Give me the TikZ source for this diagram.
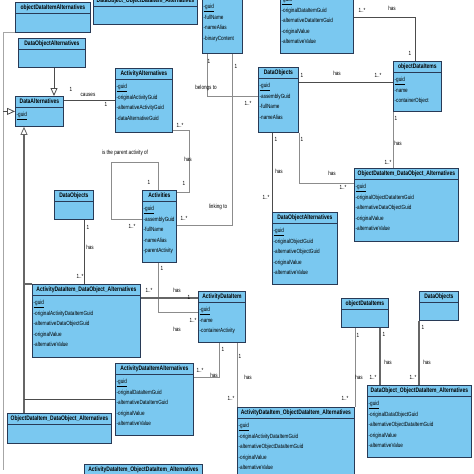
\documentclass[tikz,border=0pt]{standalone}
\usepackage{fontspec}
\newfontfamily\umlfont[FakeStretch=0.77]{Liberation Sans}
\usetikzlibrary{arrows.meta}
\definecolor{classfill}{RGB}{122,200,240}
\definecolor{classedge}{RGB}{40,58,86}

\begin{document}
\begin{tikzpicture}[x=1pt,y=-1pt,
		classbox/.style={rectangle,draw=classedge,fill=classfill,line width=0.8pt,inner sep=0pt,anchor=north west},
		heading/.style={font={\umlfont\fontsize{6.5}{7}\selectfont\bfseries},inner sep=0pt,anchor=base},
		fields/.style={font={\umlfont\fontsize{6}{10.5}\selectfont},align=left,inner sep=0pt,anchor=north west},
		bar/.style={draw=classedge,line width=0.9pt},
		mult/.style={font={\umlfont\fontsize{6}{7}\selectfont},inner sep=0pt},
		link/.style={draw=black!45,line width=0.6pt},
		darklink/.style={draw=black!70,line width=0.8pt},
		heavylink/.style={draw=black!60,line width=1.4pt},
		faintlink/.style={draw=black!35,line width=0.6pt},
		gen/.style={-{Triangle[open,line width=0.8pt,length=8pt,width=7pt]}}]
		\useasboundingbox (0,0) rectangle (474,474);

		% classes
		\node[classbox,minimum width=75pt,minimum height=30pt]	(0)	at (15,2)	{};
		\node[heading] (0t) at ([yshift=-7.5pt]0.north) {objectDataItemAlternatives};
		\draw[bar] ([yshift=-11pt]0.north west) -- ([yshift=-11pt]0.north east);

		\node[classbox,minimum width=104pt,minimum height=29pt]	(1)	at (93,-5)	{};
		\node[heading] (1t) at ([yshift=-7.5pt]1.north) {DataObject\_ObjectDataItem\_Alternatives};
		\draw[bar] ([yshift=-11pt]1.north west) -- ([yshift=-11pt]1.north east);

		\node[classbox,minimum width=40pt,minimum height=65pt]	(2)	at (202,-12)	{};
		\draw[bar] ([yshift=-11pt]2.north west) -- ([yshift=-11pt]2.north east);
		\node[fields] (2f) at ([xshift=1.5pt,yshift=-16pt]2.north west) {\underline{-guid}\\-fullName\\-nameAlias\\-binaryContent};

		\node[classbox,minimum width=73pt,minimum height=72pt]	(3)	at (280,-19)	{};
		\draw[bar] ([yshift=-11pt]3.north west) -- ([yshift=-11pt]3.north east);
		\node[fields] (3f) at ([xshift=1.5pt,yshift=-16pt]3.north west) {\underline{-guid}\\-originalDataItemGuid\\-alternativeDataItemGuid\\-originalValue\\-alternativeValue};

		\node[classbox,minimum width=67pt,minimum height=29pt]	(4)	at (18,38)	{};
		\node[heading] (4t) at ([yshift=-7.5pt]4.north) {DataObjectAlternatives};
		\draw[bar] ([yshift=-11pt]4.north west) -- ([yshift=-11pt]4.north east);

		\node[classbox,minimum width=48pt,minimum height=30pt]	(5)	at (15,96)	{};
		\node[heading] (5t) at ([yshift=-7.5pt]5.north) {DataAlternatives};
		\draw[bar] ([yshift=-11pt]5.north west) -- ([yshift=-11pt]5.north east);
		\node[fields] (5f) at ([xshift=1.5pt,yshift=-16pt]5.north west) {\underline{-guid}};

		\node[classbox,minimum width=57pt,minimum height=64pt]	(6)	at (115,68)	{};
		\node[heading] (6t) at ([yshift=-7.5pt]6.north) {ActivityAlternatives};
		\draw[bar] ([yshift=-11pt]6.north west) -- ([yshift=-11pt]6.north east);
		\node[fields] (6f) at ([xshift=1.5pt,yshift=-16pt]6.north west) {\underline{-guid}\\-originalActivityGuid\\-alternativeActivityGuid\\-dataAlternativeGuid};

		\node[classbox,minimum width=40pt,minimum height=65pt]	(7)	at (258,67)	{};
		\node[heading] (7t) at ([yshift=-7.5pt]7.north) {DataObjects};
		\draw[bar] ([yshift=-11pt]7.north west) -- ([yshift=-11pt]7.north east);
		\node[fields] (7f) at ([xshift=1.5pt,yshift=-16pt]7.north west) {\underline{-guid}\\-assemblyGuid\\-fullName\\-nameAlias};

		\node[classbox,minimum width=48pt,minimum height=50pt]	(8)	at (393,61)	{};
		\node[heading] (8t) at ([yshift=-7.5pt]8.north) {objectDataItems};
		\draw[bar] ([yshift=-11pt]8.north west) -- ([yshift=-11pt]8.north east);
		\node[fields] (8f) at ([xshift=1.5pt,yshift=-16pt]8.north west) {\underline{-guid}\\-name\\-containerObject};

		\node[classbox,minimum width=34pt,minimum height=72pt]	(9)	at (142,190)	{};
		\node[heading] (9t) at ([yshift=-7.5pt]9.north) {Activities};
		\draw[bar] ([yshift=-11pt]9.north west) -- ([yshift=-11pt]9.north east);
		\node[fields] (9f) at ([xshift=1.5pt,yshift=-16pt]9.north west) {\underline{-guid}\\-assemblyGuid\\-fullName\\-nameAlias\\-parentActivity};

		\node[classbox,minimum width=39pt,minimum height=29pt]	(10)	at (54,190)	{};
		\node[heading] (10t) at ([yshift=-7.5pt]10.north) {DataObjects};
		\draw[bar] ([yshift=-11pt]10.north west) -- ([yshift=-11pt]10.north east);

		\node[classbox,minimum width=65pt,minimum height=72pt]	(11)	at (272,212)	{};
		\node[heading] (11t) at ([yshift=-7.5pt]11.north) {DataObjectAlternatives};
		\draw[bar] ([yshift=-11pt]11.north west) -- ([yshift=-11pt]11.north east);
		\node[fields] (11f) at ([xshift=1.5pt,yshift=-16pt]11.north west) {\underline{-guid}\\-originalObjectGuid\\-alternativeObjectGuid\\-originalValue\\-alternativeValue};

		\node[classbox,minimum width=104pt,minimum height=73pt]	(12)	at (354,168)	{};
		\node[heading] (12t) at ([yshift=-7.5pt]12.north) {ObjectDataItem\_DataObject\_Alternatives};
		\draw[bar] ([yshift=-11pt]12.north west) -- ([yshift=-11pt]12.north east);
		\node[fields] (12f) at ([xshift=1.5pt,yshift=-16pt]12.north west) {\underline{-guid}\\-originalObjectDataItemGuid\\-alternativeDataObjectGuid\\-originalValue\\-alternativeValue};

		\node[classbox,minimum width=108pt,minimum height=73pt]	(13)	at (32,284)	{};
		\node[heading] (13t) at ([yshift=-7.5pt]13.north) {ActivityDataItem\_DataObject\_Alternatives};
		\draw[bar] ([yshift=-11pt]13.north west) -- ([yshift=-11pt]13.north east);
		\node[fields] (13f) at ([xshift=1.5pt,yshift=-16pt]13.north west) {\underline{-guid}\\-originalActivityDataItemGuid\\-alternativeDataObjectGuid\\-originalValue\\-alternativeValue};

		\node[classbox,minimum width=47pt,minimum height=51pt]	(14)	at (198,291)	{};
		\node[heading] (14t) at ([yshift=-7.5pt]14.north) {ActivityDataItem};
		\draw[bar] ([yshift=-11pt]14.north west) -- ([yshift=-11pt]14.north east);
		\node[fields] (14f) at ([xshift=1.5pt,yshift=-16pt]14.north west) {\underline{-guid}\\-name\\-containerActivity};

		\node[classbox,minimum width=47pt,minimum height=29pt]	(15)	at (341,298)	{};
		\node[heading] (15t) at ([yshift=-7.5pt]15.north) {objectDataItems};
		\draw[bar] ([yshift=-11pt]15.north west) -- ([yshift=-11pt]15.north east);

		\node[classbox,minimum width=39pt,minimum height=29pt]	(16)	at (419,291)	{};
		\node[heading] (16t) at ([yshift=-7.5pt]16.north) {DataObjects};
		\draw[bar] ([yshift=-11pt]16.north west) -- ([yshift=-11pt]16.north east);

		\node[classbox,minimum width=78pt,minimum height=72pt]	(17)	at (115,363)	{};
		\node[heading] (17t) at ([yshift=-7.5pt]17.north) {ActivityDataItemAlternatives};
		\draw[bar] ([yshift=-11pt]17.north west) -- ([yshift=-11pt]17.north east);
		\node[fields] (17f) at ([xshift=1.5pt,yshift=-16pt]17.north west) {\underline{-guid}\\-originalDataItemGuid\\-alternativeDataItemGuid\\-originalValue\\-alternativeValue};

		\node[classbox,minimum width=117pt,minimum height=80pt]	(18)	at (237,407)	{};
		\node[heading] (18t) at ([yshift=-7.5pt]18.north) {ActivityDataItem\_ObjectDataItem\_Alternatives};
		\draw[bar] ([yshift=-11pt]18.north west) -- ([yshift=-11pt]18.north east);
		\node[fields] (18f) at ([xshift=1.5pt,yshift=-16pt]18.north west) {\underline{-guid}\\-originalActivityDataItemGuid\\-alternativeObjectDataItemGuid\\-originalValue\\-alternativeValue};

		\node[classbox,minimum width=104pt,minimum height=72pt]	(19)	at (367,385)	{};
		\node[heading] (19t) at ([yshift=-7.5pt]19.north) {DataObject\_ObjectDataItem\_Alternatives};
		\draw[bar] ([yshift=-11pt]19.north west) -- ([yshift=-11pt]19.north east);
		\node[fields] (19f) at ([xshift=1.5pt,yshift=-16pt]19.north west) {\underline{-guid}\\-originalDataObjectGuid\\-alternativeObjectDataItemGuid\\-originalValue\\-alternativeValue};

		\node[classbox,minimum width=104pt,minimum height=30pt]	(20)	at (7,413)	{};
		\node[heading] (20t) at ([yshift=-7.5pt]20.north) {ObjectDataItem\_DataObject\_Alternatives};
		\draw[bar] ([yshift=-11pt]20.north west) -- ([yshift=-11pt]20.north east);

		\node[classbox,minimum width=118pt,minimum height=30pt]	(21)	at (84,464)	{};
		\node[heading] (21t) at ([yshift=-7.5pt]21.north) {ActivityDataItem\_ObjectDataItem\_Alternatives};
		\draw[bar] ([yshift=-11pt]21.north west) -- ([yshift=-11pt]21.north east);

		% generalizations
		\coordinate (c0) at (3,470);
		\coordinate (c1) at (24,0 |- 20.north);
		\draw[faintlink] ([yshift=1pt]0.south west) -| (c0);
		\draw[darklink,gen] (c0 |- 5.west) -- (5.west);
		\draw[darklink,gen] (54,0 |- 4.south) -- (54,0 |- 5.north);
		\draw[heavylink,gen] (c1) -- (c1 |- 5.south);
		\draw[heavylink] (13.north west) -- (c1 |- 13.north west);
		\draw[darklink] (17.west) -- (c1 |- 17.west);

		% associations
		\draw[darklink] (5.east |- 6.west) -- (6.west);
		\draw[link] (6.south east |- 0,130) -| (189,192) -- (9.east |- 0,192);
		\draw[link] (158,0 |- 9.north) |- (111,162) |- (9.west |- 0,219);
		\draw[link] (207,0 |- 2.south) |- (7.west |- 0,96);
		\draw[link] (232,0 |- 2.south) |- (9.east |- 0,225);
		\draw[darklink] (7.east |- 0,82) -- (8.west |- 0,82);
		\draw[darklink] (3.east |- 0,17) -| (415,0 |- 8.north);
		\draw[darklink] (7.south -| 11.north west) -- (11.north west);
		\draw[link] (7.south east) |- (12.west |- 0,183);
		\draw[link] (8.south west) -- (8.south west |- 12.north);
		\draw[darklink] (84,0 |- 10.south) -- (84,0 |- 13.north);
		\draw[link] (158,0 |- 9.south) |- (14.west |- 0,312);
		\draw[heavylink] (13.east |- 0,298) -- (14.west |- 0,298);
		\draw[link] (219,0 |- 14.south) |- (17.east |- 0,377);
		\draw[link] (18.north west |- 14.south) -- (18.north west);
		\draw[link] (18.north east |- 15.south) -- (18.north east);
		\draw[heavylink] (380,0 |- 15.south) -- (380,0 |- 19.north);
		\draw[heavylink] (16.south west) -- (16.south west |- 19.north);

		% labels
		\node[mult] (100) at (71,89)	{1};
		\node[mult] (101) at (88,95)	{causes};
		\node[mult] (102) at (106,104)	{1};
		\node[mult] (103) at (180,125)	{1..*};
		\node[mult] (104) at (188,159)	{has};
		\node[mult] (105) at (184,183)	{1};
		\node[mult] (106) at (125,153)	{is the parent activity of};
		\node[mult] (107) at (149,182)	{1};
		\node[mult] (108) at (132,226)	{1..*};
		\node[mult] (109) at (209,61)	{1};
		\node[mult] (110) at (206,88)	{belongs to};
		\node[mult] (111) at (248,103)	{1..*};
		\node[mult] (112) at (236,66)	{1};
		\node[mult] (113) at (218,207)	{linking to};
		\node[mult] (114) at (184,218)	{1..*};
		\node[mult] (115) at (302,75)	{1};
		\node[mult] (116) at (337,73)	{has};
		\node[mult] (117) at (378,75)	{1..*};
		\node[mult] (118) at (362,10)	{1..*};
		\node[mult] (119) at (392,8)	{has};
		\node[mult] (120) at (410,53)	{1};
		\node[mult] (121) at (276,139)	{1};
		\node[mult] (122) at (279,171)	{has};
		\node[mult] (123) at (266,197)	{1..*};
		\node[mult] (124) at (302,139)	{1};
		\node[mult] (125) at (332,173)	{has};
		\node[mult] (126) at (343,187)	{1..*};
		\node[mult] (127) at (396,118)	{1};
		\node[mult] (128) at (398,143)	{has};
		\node[mult] (129) at (388,162)	{1..*};
		\node[mult] (130) at (88,227)	{1};
		\node[mult] (131) at (90,247)	{has};
		\node[mult] (132) at (80,276)	{1..*};
		\node[mult] (133) at (162,268)	{1};
		\node[mult] (134) at (193,320)	{1..*};
		\node[mult] (135) at (177,329)	{has};
		\node[mult] (136) at (149,290)	{1..*};
		\node[mult] (137) at (177,290)	{has};
		\node[mult] (138) at (189,297)	{1};
		\node[mult] (139) at (223,349)	{1};
		\node[mult] (140) at (200,370)	{1..*};
		\node[mult] (141) at (214,375)	{has};
		\node[mult] (142) at (240,356)	{1};
		\node[mult] (143) at (248,377)	{has};
		\node[mult] (144) at (231,398)	{1..*};
		\node[mult] (145) at (358,335)	{1};
		\node[mult] (146) at (359,377)	{has};
		\node[mult] (147) at (345,398)	{1..*};
		\node[mult] (148) at (384,334)	{1};
		\node[mult] (149) at (388,362)	{has};
		\node[mult] (150) at (373,377)	{1..*};
		\node[mult] (151) at (423,327)	{1};
		\node[mult] (152) at (427,362)	{has};
		\node[mult] (153) at (413,377)	{1..*};
	\end{tikzpicture}
\end{document}
